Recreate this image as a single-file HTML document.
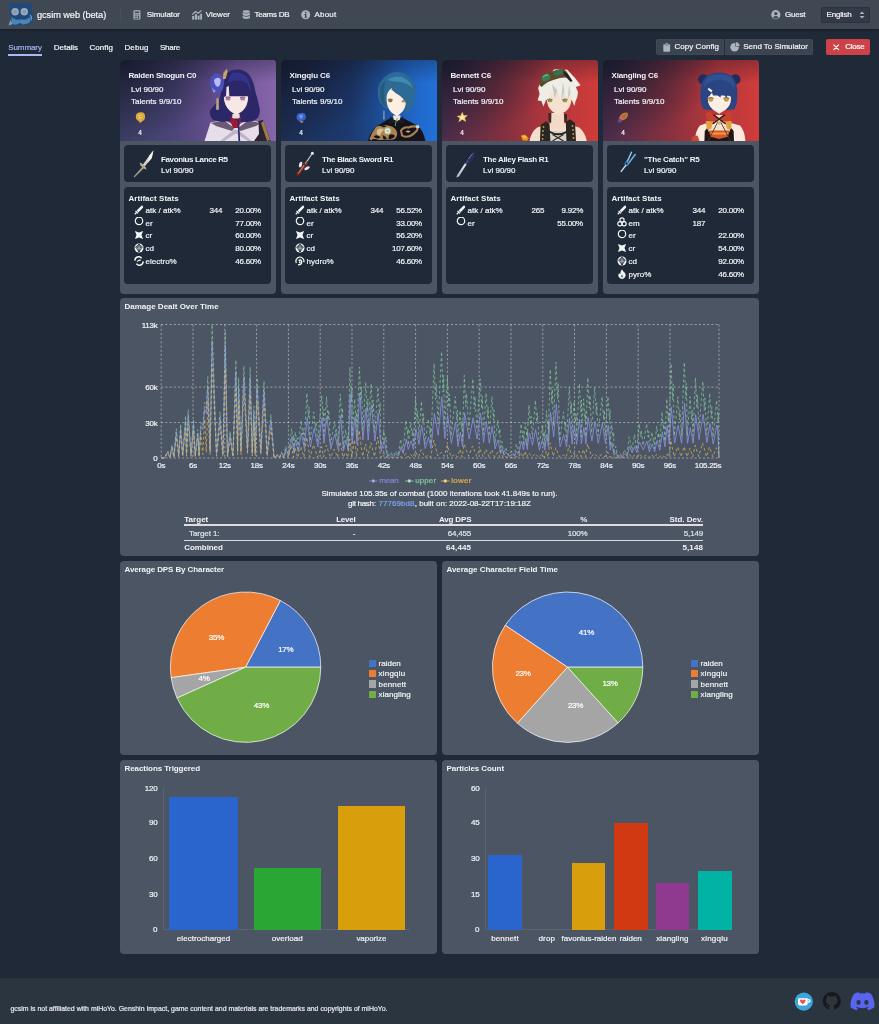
<!DOCTYPE html>
<html><head><meta charset="utf-8"><title>gcsim web (beta)</title>
<style>
html,body{margin:0;padding:0;}
body{width:879px;height:1024px;overflow:hidden;background:#1f2937;font-family:"Liberation Sans",sans-serif;position:relative;}
#r{position:absolute;left:0;top:0;width:879px;height:1024px;overflow:hidden;will-change:transform;}
#r div,#r span,#r svg{position:absolute;display:block;}
#r span{white-space:pre;-webkit-text-stroke:0.2px currentColor;}
</style></head><body><div id="r">
<div style="left:0px;top:0px;width:879px;height:29px;background:#404854;box-shadow:0 0 0 1px rgba(17,20,24,.2),0 1px 2px rgba(17,20,24,.4);"></div>
<svg style="left:7px;top:2px;" width="28" height="26" viewBox="0 0 28 26">
<path d="M1.6 1.4 L24.5 1.2 L25 10 Q27.5 13 26 18 Q24 23.5 18 23.5 L15 22 L12 23.8 L7 23.5 L1.5 23.5 L4 17 Q2 12 2.5 2.2Z" fill="#20497a"/>
<path d="M4.5 15 Q9 19.5 13.5 16.5 Q18 19.5 23 15 Q25 19 21 21.5 L16 22.5 L13 21 L9 22.8 L4.5 22 Z" fill="#4a85b6"/>
<path d="M1.5 23.5 L3.6 17.5 L5.2 22.2 Z" fill="#7f9db8"/>
<path d="M22.5 12 Q26.3 14 24.5 19 Q24 15 22.5 12Z" fill="#6fa6d4"/>
<circle cx="8.1" cy="9.7" r="3.7" fill="#98a9b8"/><circle cx="8.1" cy="9.7" r="1.9" fill="#8d95a8"/>
<circle cx="17.3" cy="9.7" r="3.7" fill="#98aeba"/><circle cx="17.3" cy="9.7" r="1.9" fill="#869aa6"/>
<path d="M10.5 14.5 L15 14.5 L13 18.5 Z" fill="#1c477a"/>
</svg>
<span style="left:37.00px;top:9.10px;font-size:9.2px;line-height:12px;color:#f1f4f8;letter-spacing:-0.047px;">gcsim web (beta)</span>
<div style="left:120px;top:7px;width:1px;height:15px;background:rgba(255,255,255,.045);"></div>
<svg style="left:133px;top:10px;" width="8" height="10" viewBox="0 0 8 10"><rect x="0.4" y="0.2" width="7" height="9.4" rx="0.8" fill="#abb3bf"/><rect x="1.6" y="1.5" width="4.6" height="1.7" fill="#404854"/><g fill="#404854"><rect x="1.6" y="4.4" width="1.2" height="1"/><rect x="3.3" y="4.4" width="1.2" height="1"/><rect x="5" y="4.4" width="1.2" height="1"/><rect x="1.6" y="6.2" width="1.2" height="1"/><rect x="3.3" y="6.2" width="1.2" height="1"/><rect x="5" y="6.2" width="1.2" height="2.4"/><rect x="1.6" y="7.9" width="2.9" height="1"/></g></svg>
<span style="left:146.70px;top:10.10px;font-size:8px;line-height:10px;color:#f1f4f8;letter-spacing:-0.055px;">Simulator</span>
<svg style="left:192px;top:10px;" width="10" height="10" viewBox="0 0 10 10"><g fill="#abb3bf"><rect x="0.2" y="6" width="2" height="3.6"/><rect x="2.9" y="4.2" width="2" height="5.4"/><rect x="5.6" y="5.6" width="2" height="4"/><rect x="8.2" y="3.8" width="1.8" height="5.8"/></g><path d="M0.6 4.2 L3.6 1.6 L6.2 3.2 L9.2 0.8" stroke="#abb3bf" stroke-width="1.2" fill="none" stroke-linecap="round"/></svg>
<span style="left:205.70px;top:10.10px;font-size:8px;line-height:10px;color:#f1f4f8;">Viewer</span>
<svg style="left:241.5px;top:10px;" width="9" height="10" viewBox="0 0 9 10"><g fill="#abb3bf"><ellipse cx="4.3" cy="1.6" rx="3.6" ry="1.4"/><path d="M0.7 2.6 Q4.3 4.6 7.9 2.6 V4.9 Q4.3 6.9 0.7 4.9Z"/><path d="M0.7 5.7 Q4.3 7.7 7.9 5.7 V8 Q4.3 10.2 0.7 8Z"/></g></svg>
<span style="left:254.50px;top:10.10px;font-size:8px;line-height:10px;color:#f1f4f8;letter-spacing:-0.262px;">Teams DB</span>
<svg style="left:301px;top:10px;" width="10" height="10" viewBox="0 0 10 10"><circle cx="4.7" cy="4.8" r="4.5" fill="#abb3bf"/><rect x="4" y="1.9" width="1.4" height="1.4" fill="#404854"/><path d="M3.4 4.1 H5.4 V7 H6.1 V7.8 H3.4 V7 H4 V4.9 H3.4Z" fill="#404854"/></svg>
<span style="left:314.50px;top:10.10px;font-size:8px;line-height:10px;color:#f1f4f8;letter-spacing:0.179px;">About</span>
<svg style="left:771px;top:9.5px;" width="10" height="10" viewBox="0 0 10 10"><circle cx="4.8" cy="4.7" r="4.6" fill="#abb3bf"/><circle cx="4.8" cy="3.6" r="1.7" fill="#404854"/><path d="M1.9 8 Q2.2 5.9 4.8 5.9 Q7.4 5.9 7.7 8 Q4.8 9.6 1.9 8Z" fill="#404854"/></svg>
<span style="left:785.00px;top:10.10px;font-size:8px;line-height:10px;color:#f1f4f8;letter-spacing:-0.229px;">Guest</span>
<div style="left:820.5px;top:7px;width:49.5px;height:16px;background:#333946;border-radius:2px;box-shadow:inset 0 0 0 1px rgba(17,20,24,.18);"></div>
<span style="left:826.50px;top:10.10px;font-size:8px;line-height:10px;color:#f1f4f8;letter-spacing:-0.177px;">English</span>
<svg style="left:858.5px;top:11px;" width="6" height="8" viewBox="0 0 6 8"><path d="M0.5 3.1 L3 0.6 L5.5 3.1Z M0.5 4.9 L3 7.4 L5.5 4.9Z" fill="#abb3bf"/></svg>
<span style="left:8.30px;top:43.20px;font-size:8px;line-height:10px;color:#a3b3ea;letter-spacing:-0.104px;">Summary</span>
<div style="left:8px;top:54px;width:34px;height:2px;background:#a9b8f2;"></div>
<span style="left:53.80px;top:43.20px;font-size:8px;line-height:10px;color:#f1f4f8;letter-spacing:-0.036px;">Details</span>
<span style="left:89.50px;top:43.20px;font-size:8px;line-height:10px;color:#f1f4f8;letter-spacing:0.062px;">Config</span>
<span style="left:124.50px;top:43.20px;font-size:8px;line-height:10px;color:#f1f4f8;letter-spacing:0.085px;">Debug</span>
<span style="left:160.00px;top:43.20px;font-size:8px;line-height:10px;color:#f1f4f8;letter-spacing:-0.270px;">Share</span>
<div style="left:656px;top:39px;width:68px;height:16px;background:#3c4452;border-radius:2px 0 0 2px;box-shadow:inset 0 0 0 1px rgba(255,255,255,.025);"></div>
<div style="left:725px;top:39px;width:88px;height:16px;background:#3c4452;border-radius:0 2px 2px 0;box-shadow:inset 0 0 0 1px rgba(255,255,255,.025);"></div>
<svg style="left:662.5px;top:42.5px;" width="8" height="9" viewBox="0 0 8 9"><rect x="0.3" y="1.2" width="6.8" height="7.6" rx="0.7" fill="#abb3bf"/><rect x="2.2" y="0.1" width="3" height="2" rx="0.5" fill="#abb3bf" stroke="#3c4452" stroke-width="0.5"/></svg>
<span style="left:674.50px;top:42.30px;font-size:8px;line-height:10px;color:#f1f4f8;letter-spacing:0.043px;">Copy Config</span>
<svg style="left:729.5px;top:42.3px;" width="10" height="10" viewBox="0 0 10 10"><circle cx="4.6" cy="5.2" r="4.3" fill="#abb3bf"/><path d="M5.3 4.5 V-0.5 H10.5 V4.5Z" fill="#3c4452"/><path d="M5.9 3.9 V0.2 A3.9 3.9 0 0 1 9.6 3.9Z" fill="#abb3bf"/></svg>
<span style="left:743.30px;top:42.30px;font-size:8px;line-height:10px;color:#f1f4f8;letter-spacing:-0.043px;">Send To Simulator</span>
<div style="left:826px;top:39px;width:43.5px;height:16px;background:#cd4246;border-radius:2px;"></div>
<svg style="left:833px;top:44px;" width="7" height="7" viewBox="0 0 7 7"><path d="M0.8 0.8 L5.6 5.6 M5.6 0.8 L0.8 5.6" stroke="#ffffff" stroke-width="1.15" stroke-linecap="round"/></svg>
<span style="left:845.30px;top:42.30px;font-size:8px;line-height:10px;color:#ffffff;letter-spacing:-0.291px;">Close</span>
<div style="left:119.6px;top:60.2px;width:156px;height:233.8px;background:#4b5563;border-radius:4px;"></div>
<div style="left:119.6px;top:60.2px;width:156px;height:80.6px;border-radius:4px 4px 0 0;overflow:hidden;background:linear-gradient(90deg,#3a3d62 0%,#4c4579 35%,#6b5093 66%,#8666aa 100%);"><div style="left:0;top:0;width:156px;height:81px;background:radial-gradient(ellipse 75% 100% at 0% 0%,rgba(20,24,42,.88) 0%,rgba(20,24,42,.5) 42%,rgba(20,24,42,0) 100%),linear-gradient(180deg,rgba(20,20,36,.32) 0%,rgba(20,20,36,0) 28%);"></div><svg style="left:0;top:0" width="156" height="81" viewBox="0 0 156 81">
<path d="M84.5 81 L90.5 62.5 L104 60 L116 66 L128 60 L142 62.5 L148.7 81Z" fill="#e7deec"/>
<path d="M91 63 L104 60.5 L114.5 68 L112 71 L96 66Z" fill="#6a5a74"/>
<path d="M141 63 L128 60.5 L118 68 L120.5 71 L136 66Z" fill="#6a5a74"/>
<path d="M100 81 L114 70 L118 70 L132 81 L128 81 L116 73.5 L104 81Z" fill="#bfb2c8"/>
<path d="M138.5 61 L143 60 L150.6 81 L134 81 L139 74Z" fill="#2b2232"/>
<path d="M141 63 L143.5 61 L150 80 L147 81Z" fill="#9a7d44"/>
<path d="M107.5 12.4 Q112 9 118 9.6 Q125 9.6 129.5 15.3 Q134 22 135.3 31.5 Q138 40 139.1 45.9 Q141 53 138.1 57.4 Q133 62.5 125.7 62 L107.5 61.2 Q98 63 92.3 59.3 Q88.5 54 90.3 49.7 Q95 45 99.9 38 Q101 30 103.7 24 Q104.5 16 107.5 12.4Z" fill="#2b2768"/>
<path d="M112 13 Q120 11 126 16 Q131 22 131 31 Q127 24 121 22 Q114 20 108 24 Q109 17 112 13Z" fill="#34338a"/>
<path d="M103.7 36 Q104 33 107 33 L126 33 Q128.3 33 128.2 37 Q128 46 122.5 51 L116.2 55.2 L110 51 Q104 45.5 103.7 36Z" fill="#f7e7e5"/>
<path d="M103 38 Q103 24 112 21 Q122 19 127.5 24 Q130.5 29 129.2 38.2 L127.8 36.2 L105.2 36.2 Z" fill="#2b2768"/>
<path d="M106.5 27 L108.8 26 L109.3 36.2 L106 36.2Z" fill="#f2e4e6"/>
<path d="M112.5 54 L119.5 54 L120 58.5 L112 58.5Z" fill="#f0dcd8"/>
<path d="M110.4 56.6 L116 60.5 L120.9 56.6 L120.2 63 L118.2 67.9 L113 67.9 L111 63Z" fill="#9d1a32"/>
<path d="M117.6 59 L119 59 L120.2 81 L118.4 81Z" fill="#2b2768"/>
<ellipse cx="108" cy="38.9" rx="2.5" ry="1.5" fill="#b07aa8"/><ellipse cx="122.6" cy="38.9" rx="2.5" ry="1.5" fill="#b07aa8"/>
<path d="M105.4 37.6 Q108 36.4 110.6 37.6" stroke="#3a2a50" stroke-width="0.7" fill="none"/><path d="M120 37.6 Q122.6 36.4 125.2 37.6" stroke="#3a2a50" stroke-width="0.7" fill="none"/>
<path d="M90.3 24 Q89 16 95 13.4 Q100 13 103 18 Q105 25 102 31 Q97 35 93 32 Q90.5 29 90.3 24Z" fill="#4d50b8"/>
<path d="M94 20 Q97 16 100.5 19 Q101.5 24 98 27 Q94.5 26 94 20Z" fill="#b9bcf6"/>
<path d="M92 28 L96 31 L93.5 33Z" fill="#8f93e6"/>
<path d="M102.8 19.1 L103.4 13 L106.8 8.6 L107.5 12 L105.6 19Z" fill="#c6a56a"/>
<path d="M96.4 38.2 L98.8 38.2 L99 49.7 L96 49.7Z" fill="#b59f80"/>
</svg></div>
<span style="left:128.50px;top:71.40px;font-size:8px;line-height:10px;color:#f1f4f8;font-weight:700;-webkit-text-stroke:0;letter-spacing:-0.213px;">Raiden Shogun C0</span>
<span style="left:131.00px;top:85.40px;font-size:8px;line-height:10px;color:#f1f4f8;">Lvl 90/90</span>
<span style="left:131.00px;top:97.00px;font-size:8px;line-height:10px;color:#f1f4f8;letter-spacing:0.042px;">Talents 9/9/10</span>
<svg style="left:133.5px;top:110.5px;" width="13" height="13" viewBox="0 0 13 13"><path d="M2 4 Q3 1 7 1.2 Q11 1 11 5 Q11.5 9 8 10.5 L6 12 L4.6 10 Q1 8.6 2 4Z" fill="#d9ac3c"/><path d="M4.4 4.6 Q6 2.8 8.4 4.2 Q8.8 6.4 6.6 7.6 Q4.2 7.2 4.4 4.6Z" fill="#f3d77a"/><path d="M5.4 5 L7.8 5.4" stroke="#8c6a20" stroke-width="0.8"/></svg>
<span style="left:138.20px;top:128.30px;font-size:6.5px;line-height:9px;color:#f1f4f8;">4</span>
<div style="left:124.1px;top:145.3px;width:146.6px;height:36.6px;background:#1f2937;border-radius:4px;"></div>
<svg style="left:133px;top:150px;" width="22" height="28" viewBox="0 0 22 28"><path d="M20.4 0.6 L18.8 8 L11.6 16.4 L9.8 14.8 L16.4 5.6Z" fill="#d5d2c8"/><path d="M20.4 0.6 L18.8 8 L14.6 12.8 L16.4 5.6Z" fill="#f4f2ea"/><path d="M6.6 12.4 L9 13.6 L12.6 17.2 L13.6 19.8 L10.8 18.6 L7.4 15.2Z" fill="#b9b094"/><path d="M9.6 16.6 L11 18 L1.4 27.6 L0.6 26.8Z" fill="#a8a08a"/></svg>
<span style="left:161.00px;top:154.60px;font-size:8px;line-height:10px;color:#f1f4f8;font-weight:700;-webkit-text-stroke:0;letter-spacing:-0.365px;">Favonius Lance R5</span>
<span style="left:161.00px;top:166.20px;font-size:8px;line-height:10px;color:#f1f4f8;">Lvl 90/90</span>
<div style="left:124.1px;top:187.3px;width:146.6px;height:96.9px;background:#1f2937;border-radius:4px;"></div>
<span style="left:128.50px;top:193.60px;font-size:8px;line-height:10px;color:#f1f4f8;font-weight:700;-webkit-text-stroke:0;letter-spacing:0.036px;">Artifact Stats</span>
<svg style="left:133.7px;top:204.5px;" width="10" height="10" viewBox="0 0 10 10"><path d="M8.6 0.4 L9.2 2.6 L4.4 7.4 L2.6 5.6 L7.4 0.8 Z" fill="#f1f4f8"/><path d="M1.9 5.6 L4.4 8.1 L3.6 8.9 L2.8 8.1 L1.2 9.7 L0.3 8.8 L1.9 7.2 L1.1 6.4Z" fill="#f1f4f8"/></svg>
<span style="left:145.60px;top:205.70px;font-size:8px;line-height:10px;color:#f1f4f8;">atk / atk%</span>
<span style="left:209.40px;top:205.70px;font-size:8px;line-height:10px;color:#f1f4f8;letter-spacing:-0.116px;">344</span>
<span style="left:235.28px;top:205.70px;font-size:8px;line-height:10px;color:#f1f4f8;letter-spacing:-0.235px;">20.00%</span>
<svg style="left:133.7px;top:217.35px;" width="10" height="10" viewBox="0 0 10 10"><circle cx="5" cy="3.9" r="3.7" fill="none" stroke="#f1f4f8" stroke-width="1.2"/></svg>
<span style="left:145.60px;top:218.55px;font-size:8px;line-height:10px;color:#f1f4f8;">er</span>
<span style="left:235.28px;top:218.55px;font-size:8px;line-height:10px;color:#f1f4f8;letter-spacing:-0.235px;">77.00%</span>
<svg style="left:133.7px;top:230.2px;" width="10" height="10" viewBox="0 0 10 10"><path d="M0.9 0.9 L5 2.5 L9.1 0.9 L7.5 5 L9.1 9.1 L5 7.5 L0.9 9.1 L2.5 5Z" fill="#f1f4f8"/></svg>
<span style="left:145.60px;top:231.40px;font-size:8px;line-height:10px;color:#f1f4f8;">cr</span>
<span style="left:235.28px;top:231.40px;font-size:8px;line-height:10px;color:#f1f4f8;letter-spacing:-0.235px;">60.00%</span>
<svg style="left:133.7px;top:243.05px;" width="10" height="10" viewBox="0 0 10 10"><circle cx="5" cy="5" r="4.5" fill="#f1f4f8"/><path d="M5 1.2 L8.3 4 L5 9 L1.7 4Z M1.7 4 H8.3 M3.6 4 L5 9 L6.4 4 L5 1.2 L3.6 4" fill="none" stroke="#1f2937" stroke-width="0.75" stroke-linejoin="round"/></svg>
<span style="left:145.60px;top:244.25px;font-size:8px;line-height:10px;color:#f1f4f8;">cd</span>
<span style="left:235.28px;top:244.25px;font-size:8px;line-height:10px;color:#f1f4f8;letter-spacing:-0.235px;">80.00%</span>
<svg style="left:133.7px;top:255.89999999999998px;" width="10" height="10" viewBox="0 0 10 10"><path d="M1 4.6 A3.6 3.6 0 0 1 7.6 2.4" fill="none" stroke="#f1f4f8" stroke-width="1.5"/><path d="M9 5.4 A3.6 3.6 0 0 1 2.4 7.6" fill="none" stroke="#f1f4f8" stroke-width="1.5"/><path d="M3.2 5.6 Q5 3.4 6.8 4.4" fill="none" stroke="#f1f4f8" stroke-width="1.3"/></svg>
<span style="left:145.60px;top:257.10px;font-size:8px;line-height:10px;color:#f1f4f8;">electro%</span>
<span style="left:235.28px;top:257.10px;font-size:8px;line-height:10px;color:#f1f4f8;letter-spacing:-0.235px;">46.60%</span>
<div style="left:280.6px;top:60.2px;width:156px;height:233.8px;background:#4b5563;border-radius:4px;"></div>
<div style="left:280.6px;top:60.2px;width:156px;height:80.6px;border-radius:4px 4px 0 0;overflow:hidden;background:linear-gradient(90deg,#1c2d52 0%,#1c3a70 45%,#1d4c94 63%,#2067c8 86%,#2270d8 100%);"><div style="left:0;top:0;width:156px;height:81px;background:radial-gradient(ellipse 75% 100% at 0% 0%,rgba(20,24,42,.88) 0%,rgba(20,24,42,.5) 42%,rgba(20,24,42,0) 100%),linear-gradient(180deg,rgba(20,20,36,.32) 0%,rgba(20,20,36,0) 28%);"></div><svg style="left:0;top:0" width="156" height="81" viewBox="0 0 156 81">
<path d="M87 81 Q90 70 96 66 L109.5 58 L122 58 L137 66 Q142 70 144.5 81Z" fill="#15141c"/>
<path d="M109.5 56.4 L116 60.5 L121.9 56.4 L123.5 63 L108 63Z" fill="#1c1b26"/>
<path d="M112 55.5 L119.5 55.5 L119 59.5 L116 61 L112.6 59.5Z" fill="#f6e6d8"/>
<path d="M116.4 58 Q114.6 62 114.2 66" stroke="#5fae6a" stroke-width="0.9" fill="none"/>
<path d="M94.2 68 Q97 64.5 101 66.5 Q104 64.5 109 66 Q114 67 116 72 Q117 77 113 79.5 L98 80 Q92 78 90 80.5 L88.5 79 Q91 72 94.2 68Z" fill="#a98452"/>
<path d="M96 70 Q100 67.5 103 69.5 Q100 72 98.5 76 Q95 75 96 70Z" fill="#d9bd8e"/>
<path d="M108 75 Q112 73 114 76 Q112 79.5 107.5 79Z" fill="#15141c"/><path d="M92.5 76.5 Q96 73.5 99.5 77.5 Q96 80 92.5 76.5Z" fill="#15141c"/><path d="M100.5 66.8 Q103.6 65 105.4 66.6 Q102.5 67.6 100.5 66.8Z" fill="#15141c"/><path d="M101.5 75 Q104.5 76 106 79 L102.5 79.5Z" fill="#15141c"/>
<circle cx="106.6" cy="70.9" r="3.7" fill="#c9a874"/><circle cx="106.6" cy="70.9" r="2.6" fill="#d3efe2"/><circle cx="106.6" cy="70.9" r="1.2" fill="#8fcdb6"/>
<path d="M120 70.5 Q123 66.5 127.5 67.5 Q131 66 134.5 66.5 Q137.5 67.5 136 70.5 Q133 74 129 76 Q124 77.5 121 75.5Z" fill="none" stroke="#a98452" stroke-width="2"/>
<path d="M124.5 71.5 Q127 69.5 129.5 71.5 Q127.5 73.8 124.5 71.5Z" fill="#c9a874"/>
<path d="M134.5 65.5 L137.8 65 L138.5 68 L135.5 68.6Z" fill="#cfd4e0"/>
<path d="M102.2 50.5 L103.6 50.5 L103.8 59.5 L102 59.5Z" fill="#6d93b6"/>
<path d="M104.7 16.3 Q110 12 116.2 12 Q123 12 127.6 16.3 Q132 20 134.3 25.8 Q135.5 32 133.8 38.2 Q133 44 130.5 47.8 Q128.5 51.5 125.7 53.5 L122 47 L106.5 48.5 Q103.5 48.5 101.8 45.9 Q98 42.5 97.5 38.2 Q96 32 97.5 26.8 Q99.5 20.5 104.7 16.3Z" fill="#2d6b96"/>
<path d="M105.6 40.2 Q105 34 108.5 30 L111.5 27.5 L125 38 Q125.5 46 122 51 L116.2 56.6 L110.5 52.5 Q106 48 105.6 40.2Z" fill="#fbeee2"/>
<path d="M110.5 29.5 Q112 24 115 21 Q122 24 126.5 33 Q127.5 40 125.6 45 Q123 38.5 118.5 35.5 Q114 33 110.5 29.5Z" fill="#2d6b96"/>
<path d="M106 20 Q113 15 121 17 Q129 20 132 28 Q126 23 119 22 Q112 22 106 20Z" fill="#3f88b2"/>
<path d="M99 30 Q100 24 104 21 Q102.5 30 103.5 40 Q104 44.5 106 47.5 Q101.5 45.5 100 41 Q98.5 36 99 30Z" fill="#25597f"/>
<ellipse cx="109.3" cy="40.7" rx="2.1" ry="1.5" fill="#9a6a28"/>
<path d="M106.8 39.6 Q109.3 38.2 111.8 39.8" stroke="#3a2a20" stroke-width="0.7" fill="none"/>
<ellipse cx="122.4" cy="41.2" rx="1.6" ry="1.2" fill="#b98a3c"/>
</svg></div>
<span style="left:289.50px;top:71.40px;font-size:8px;line-height:10px;color:#f1f4f8;font-weight:700;-webkit-text-stroke:0;letter-spacing:-0.128px;">Xingqiu C6</span>
<span style="left:292.00px;top:85.40px;font-size:8px;line-height:10px;color:#f1f4f8;">Lvl 90/90</span>
<span style="left:292.00px;top:97.00px;font-size:8px;line-height:10px;color:#f1f4f8;letter-spacing:0.042px;">Talents 9/9/10</span>
<svg style="left:294.5px;top:110.5px;" width="13" height="13" viewBox="0 0 13 13"><path d="M1.5 5 Q3 1.2 6 2.2 Q9 0.6 10.6 4 Q12 7.6 8.6 9.4 L5 10.4 Q1 9.2 1.5 5Z" fill="#3c63c9"/><path d="M4 4.2 Q6 2.6 8 4.4 Q8.4 6.8 6 7.8 Q3.6 6.8 4 4.2Z" fill="#6f96ee"/><path d="M4.4 10 L8.8 10.4 L6.6 12Z" fill="#c9a24a"/></svg>
<span style="left:299.20px;top:128.30px;font-size:6.5px;line-height:9px;color:#f1f4f8;">4</span>
<div style="left:285.1px;top:145.3px;width:146.6px;height:36.6px;background:#1f2937;border-radius:4px;"></div>
<svg style="left:294px;top:150px;" width="22" height="28" viewBox="0 0 22 28"><path d="M11.8 11.6 L13.6 13.4 L4.6 25.6 L2.2 26.2 L2.6 23.6Z" fill="#8a2a22"/><path d="M11.8 11.6 L12.8 12.6 L4 24.6 L2.6 25.4Z" fill="#c4867c"/><path d="M2.6 23.6 L5.6 24.6 L2 26.6Z" fill="#6a140e"/><path d="M17.8 4.2 L12.6 11.8" stroke="#d9d6d8" stroke-width="1.1"/><circle cx="18.4" cy="3.2" r="1.5" fill="#ececf0"/><ellipse cx="6.6" cy="14.6" rx="1.6" ry="3" transform="rotate(18 6.6 14.6)" fill="#e6e6ec"/><ellipse cx="13" cy="18.2" rx="1.5" ry="3" transform="rotate(62 13 18.2)" fill="#e6e6ec"/><path d="M9.4 12.6 L13.6 15.6 L12.6 17 L8.4 14.2Z" fill="#5a2a2a"/></svg>
<span style="left:322.00px;top:154.60px;font-size:8px;line-height:10px;color:#f1f4f8;font-weight:700;-webkit-text-stroke:0;letter-spacing:-0.328px;">The Black Sword R1</span>
<span style="left:322.00px;top:166.20px;font-size:8px;line-height:10px;color:#f1f4f8;">Lvl 90/90</span>
<div style="left:285.1px;top:187.3px;width:146.6px;height:96.9px;background:#1f2937;border-radius:4px;"></div>
<span style="left:289.50px;top:193.60px;font-size:8px;line-height:10px;color:#f1f4f8;font-weight:700;-webkit-text-stroke:0;letter-spacing:0.036px;">Artifact Stats</span>
<svg style="left:294.7px;top:204.5px;" width="10" height="10" viewBox="0 0 10 10"><path d="M8.6 0.4 L9.2 2.6 L4.4 7.4 L2.6 5.6 L7.4 0.8 Z" fill="#f1f4f8"/><path d="M1.9 5.6 L4.4 8.1 L3.6 8.9 L2.8 8.1 L1.2 9.7 L0.3 8.8 L1.9 7.2 L1.1 6.4Z" fill="#f1f4f8"/></svg>
<span style="left:306.60px;top:205.70px;font-size:8px;line-height:10px;color:#f1f4f8;">atk / atk%</span>
<span style="left:370.40px;top:205.70px;font-size:8px;line-height:10px;color:#f1f4f8;letter-spacing:-0.116px;">344</span>
<span style="left:396.28px;top:205.70px;font-size:8px;line-height:10px;color:#f1f4f8;letter-spacing:-0.235px;">56.52%</span>
<svg style="left:294.7px;top:217.35px;" width="10" height="10" viewBox="0 0 10 10"><circle cx="5" cy="3.9" r="3.7" fill="none" stroke="#f1f4f8" stroke-width="1.2"/></svg>
<span style="left:306.60px;top:218.55px;font-size:8px;line-height:10px;color:#f1f4f8;">er</span>
<span style="left:396.28px;top:218.55px;font-size:8px;line-height:10px;color:#f1f4f8;letter-spacing:-0.235px;">33.00%</span>
<svg style="left:294.7px;top:230.2px;" width="10" height="10" viewBox="0 0 10 10"><path d="M0.9 0.9 L5 2.5 L9.1 0.9 L7.5 5 L9.1 9.1 L5 7.5 L0.9 9.1 L2.5 5Z" fill="#f1f4f8"/></svg>
<span style="left:306.60px;top:231.40px;font-size:8px;line-height:10px;color:#f1f4f8;">cr</span>
<span style="left:396.28px;top:231.40px;font-size:8px;line-height:10px;color:#f1f4f8;letter-spacing:-0.235px;">56.20%</span>
<svg style="left:294.7px;top:243.05px;" width="10" height="10" viewBox="0 0 10 10"><circle cx="5" cy="5" r="4.5" fill="#f1f4f8"/><path d="M5 1.2 L8.3 4 L5 9 L1.7 4Z M1.7 4 H8.3 M3.6 4 L5 9 L6.4 4 L5 1.2 L3.6 4" fill="none" stroke="#1f2937" stroke-width="0.75" stroke-linejoin="round"/></svg>
<span style="left:306.60px;top:244.25px;font-size:8px;line-height:10px;color:#f1f4f8;">cd</span>
<span style="left:392.06px;top:244.25px;font-size:8px;line-height:10px;color:#f1f4f8;letter-spacing:-0.235px;">107.60%</span>
<svg style="left:294.7px;top:255.89999999999998px;" width="10" height="10" viewBox="0 0 10 10"><path d="M1.4 7 A4 4 0 1 1 8.8 6.2" fill="none" stroke="#f1f4f8" stroke-width="1.3"/><path d="M3 8.8 Q7.6 8.6 6.6 5 Q5.6 3.2 3.6 4.6" fill="none" stroke="#f1f4f8" stroke-width="1.3"/><circle cx="4.8" cy="6.3" r="1" fill="#f1f4f8"/></svg>
<span style="left:306.60px;top:257.10px;font-size:8px;line-height:10px;color:#f1f4f8;">hydro%</span>
<span style="left:396.28px;top:257.10px;font-size:8px;line-height:10px;color:#f1f4f8;letter-spacing:-0.235px;">46.60%</span>
<div style="left:441.6px;top:60.2px;width:156px;height:233.8px;background:#4b5563;border-radius:4px;"></div>
<div style="left:441.6px;top:60.2px;width:156px;height:80.6px;border-radius:4px 4px 0 0;overflow:hidden;background:linear-gradient(90deg,#4a2d4c 0%,#80303f 38%,#b4363c 70%,#cf3c3a 100%);"><div style="left:0;top:0;width:156px;height:81px;background:radial-gradient(ellipse 75% 100% at 0% 0%,rgba(20,24,42,.88) 0%,rgba(20,24,42,.5) 42%,rgba(20,24,42,0) 100%),linear-gradient(180deg,rgba(20,20,36,.32) 0%,rgba(20,20,36,0) 28%);"></div><svg style="left:0;top:0" width="156" height="81" viewBox="0 0 156 81">
<path d="M87.5 81 Q89 72 95.1 67.5 L109 63 L123 63 L137.2 67.5 Q143 72 144.8 81Z" fill="#f4ddcd"/>
<path d="M106.2 53 L109.4 53 L109.8 62 L106.6 62Z" fill="#3a2c22"/><path d="M121.9 54 L125 54 L124.8 62 L122 62Z" fill="#3a2c22"/>
<path d="M109.5 53 L121.9 53 L122.4 68 L109 68Z" fill="#f3d9c7"/>
<path d="M105.6 71 L125.7 71 L126 81 L105.2 81Z" fill="#d6d2ca"/>
<path d="M98.6 65 L104 61.2 L107.5 64 L108.4 81 L98 81Z" fill="#2a2520"/>
<path d="M123.8 62 L128 59.3 L133 63 L134 81 L124.4 81Z" fill="#2a2520"/>
<g fill="#c2a050"><circle cx="101.5" cy="67" r="0.9"/><circle cx="101" cy="71" r="0.9"/><circle cx="100.8" cy="75" r="0.9"/><circle cx="100.6" cy="79" r="0.9"/><circle cx="130.5" cy="66" r="0.9"/><circle cx="131" cy="70" r="0.9"/><circle cx="131.3" cy="74" r="0.9"/><circle cx="131.5" cy="78" r="0.9"/></g>
<path d="M107 70.5 Q116 76 125.5 70.5 L125.5 72.5 Q116 78 107 72.5Z" fill="#2a2520"/>
<path d="M110.5 74.5 L121.5 81 M121.5 74.5 L110.5 81" stroke="#2a2520" stroke-width="1.1"/>
<path d="M78.9 75.4 L83 74.6 L86.8 78.2 L85 80.8 L80.5 80.3Z" fill="#e8961c"/><path d="M80 76 L83 75.4 L85 77.4 L82 78.2Z" fill="#f6c042"/>
<path d="M99.9 16.3 L104 13 L108 14 L112 9.6 L116.2 9.1 L121 10 L125 9.4 L129.5 14.3 L133 18 L138.6 25.3 L133.8 27 L136 32 L135.3 37.3 L133.6 41 L132.4 46 L129.8 40 L104 40 L101.4 46.6 L99.4 41 L95.6 40.6 L97.6 34 L96.2 28 L98.6 22Z" fill="#eeeee7"/>
<path d="M104.7 38 Q104.7 31.5 117 31.5 Q129.5 31.5 129.5 38 Q129.5 47 123.5 51.5 L116.2 55.6 L110.5 51.5 Q104.7 47 104.7 38Z" fill="#f6e0d0"/>
<path d="M101 30 L105 22 L112 19 L122 18 L130 22 L134 31 L131.6 42 L128.6 33 L125.6 39.4 L122.4 31 L119 41.6 L115.4 30.6 L112.6 38.4 L109.4 31 L106.4 41 L103.8 35 L102 42.5Z" fill="#eeeee7"/>
<path d="M110 24 L115.4 30.6 L112.6 38.4Z M121 22 L122.4 31 L119 41.6Z M127 25 L128.6 33 L125.6 39.4Z" fill="#c8c8c2"/>
<path d="M97.5 24.9 Q97 18 101.5 14 Q106 10.5 111 11.2 Q116 8.4 121 9.6 Q124.6 10.4 126 14.4 L125.7 17.6 Q119 17 113 19.6 Q105 21.6 99.6 27Z" fill="#5f4a2c"/>
<path d="M120 10.6 L126 14 L130.6 21 L128.6 22 L123 16Z" fill="#26241f"/>
<ellipse cx="103.9" cy="17.6" rx="4.6" ry="3.3" transform="rotate(-28 103.9 17.6)" fill="#3c7c58"/>
<ellipse cx="116.4" cy="12.6" rx="4.8" ry="2.7" transform="rotate(-16 116.4 12.6)" fill="#357250"/>
<path d="M101 17 Q103.4 14.6 106 15" stroke="#9fd8b4" stroke-width="0.9" fill="none"/>
<ellipse cx="107.9" cy="40.8" rx="2.4" ry="1.5" fill="#8b9a3e"/><ellipse cx="122.9" cy="40.8" rx="2.4" ry="1.5" fill="#8b9a3e"/>
<path d="M105.2 39.6 Q107.9 38.2 110.6 39.8" stroke="#4a3a2a" stroke-width="0.7" fill="none"/><path d="M120.2 39.8 Q122.9 38.2 125.6 39.6" stroke="#4a3a2a" stroke-width="0.7" fill="none"/>
</svg></div>
<span style="left:450.50px;top:71.40px;font-size:8px;line-height:10px;color:#f1f4f8;font-weight:700;-webkit-text-stroke:0;letter-spacing:-0.173px;">Bennett C6</span>
<span style="left:453.00px;top:85.40px;font-size:8px;line-height:10px;color:#f1f4f8;">Lvl 90/90</span>
<span style="left:453.00px;top:97.00px;font-size:8px;line-height:10px;color:#f1f4f8;letter-spacing:0.042px;">Talents 9/9/10</span>
<svg style="left:455.5px;top:110.5px;" width="13" height="13" viewBox="0 0 13 13"><path d="M6.2 0.8 L7.9 4.2 L11.8 4.2 L9 7 L10.2 11 L6.4 8.8 L2.4 11.2 L3.6 7.2 L0.6 5 L4.6 4.4Z" fill="#edc866"/><path d="M6.2 3.4 L7.2 5.4 L9 5.6 L7.6 7 L8 8.8 L6.3 7.8 L4.6 8.8 L5 7 L3.6 5.8 L5.4 5.4Z" fill="#fbeeb4"/></svg>
<span style="left:460.20px;top:128.30px;font-size:6.5px;line-height:9px;color:#f1f4f8;">4</span>
<div style="left:446.1px;top:145.3px;width:146.6px;height:36.6px;background:#1f2937;border-radius:4px;"></div>
<svg style="left:455px;top:150px;" width="22" height="28" viewBox="0 0 22 28"><path d="M1.2 27.4 L2.2 25 L10 13 L11.8 14.2 L4 26.4Z" fill="#b9bdd6"/><path d="M3.4 24.2 L9.6 14.6 L10.6 15.2 Z" fill="#eceef8"/><path d="M10 13 L18.4 2.4 L19.8 3.2 L11.8 14.2Z" fill="#45468a"/><path d="M12.6 10.6 Q15 4.6 19 2.6 Q20.4 6.4 17.6 10.4 Q15 13.6 12.6 10.6Z" fill="#2e2c5c" opacity="0.85"/><path d="M13.4 9 L17.6 3.6" stroke="#7f83c8" stroke-width="0.9"/></svg>
<span style="left:483.00px;top:154.60px;font-size:8px;line-height:10px;color:#f1f4f8;font-weight:700;-webkit-text-stroke:0;letter-spacing:-0.296px;">The Alley Flash R1</span>
<span style="left:483.00px;top:166.20px;font-size:8px;line-height:10px;color:#f1f4f8;">Lvl 90/90</span>
<div style="left:446.1px;top:187.3px;width:146.6px;height:96.9px;background:#1f2937;border-radius:4px;"></div>
<span style="left:450.50px;top:193.60px;font-size:8px;line-height:10px;color:#f1f4f8;font-weight:700;-webkit-text-stroke:0;letter-spacing:0.036px;">Artifact Stats</span>
<svg style="left:455.7px;top:204.5px;" width="10" height="10" viewBox="0 0 10 10"><path d="M8.6 0.4 L9.2 2.6 L4.4 7.4 L2.6 5.6 L7.4 0.8 Z" fill="#f1f4f8"/><path d="M1.9 5.6 L4.4 8.1 L3.6 8.9 L2.8 8.1 L1.2 9.7 L0.3 8.8 L1.9 7.2 L1.1 6.4Z" fill="#f1f4f8"/></svg>
<span style="left:467.60px;top:205.70px;font-size:8px;line-height:10px;color:#f1f4f8;">atk / atk%</span>
<span style="left:531.40px;top:205.70px;font-size:8px;line-height:10px;color:#f1f4f8;letter-spacing:-0.116px;">265</span>
<span style="left:561.50px;top:205.70px;font-size:8px;line-height:10px;color:#f1f4f8;letter-spacing:-0.236px;">9.92%</span>
<svg style="left:455.7px;top:217.35px;" width="10" height="10" viewBox="0 0 10 10"><circle cx="5" cy="3.9" r="3.7" fill="none" stroke="#f1f4f8" stroke-width="1.2"/></svg>
<span style="left:467.60px;top:218.55px;font-size:8px;line-height:10px;color:#f1f4f8;">er</span>
<span style="left:557.28px;top:218.55px;font-size:8px;line-height:10px;color:#f1f4f8;letter-spacing:-0.235px;">55.00%</span>
<div style="left:602.6px;top:60.2px;width:156px;height:233.8px;background:#4b5563;border-radius:4px;"></div>
<div style="left:602.6px;top:60.2px;width:156px;height:80.6px;border-radius:4px 4px 0 0;overflow:hidden;background:linear-gradient(90deg,#4a2d4c 0%,#80303f 38%,#b4363c 70%,#cf3c3a 100%);"><div style="left:0;top:0;width:156px;height:81px;background:radial-gradient(ellipse 75% 100% at 0% 0%,rgba(20,24,42,.88) 0%,rgba(20,24,42,.5) 42%,rgba(20,24,42,0) 100%),linear-gradient(180deg,rgba(20,20,36,.32) 0%,rgba(20,20,36,0) 28%);"></div><svg style="left:0;top:0" width="156" height="81" viewBox="0 0 156 81">
<path d="M92 81 Q92.5 70 97 65.5 L104 63 L128 63 L137 65.5 Q141.5 70 142.4 81Z" fill="#fbeadd"/>
<path d="M88.4 81 L89.6 76.6 L94.6 75.5 L96.4 81Z" fill="#c8463a"/>
<path d="M101.8 71 L105.6 66 L126.6 66 L130.6 71 L131 81 L101.4 81Z" fill="#1f1416"/>
<path d="M105.6 66 L126.6 66 L127 71.4 L105.2 71.4Z" fill="#f6e2cc"/>
<path d="M106 70.6 L126.6 70.6 L125 76.8 L116.2 79 L107.4 76.8Z" fill="#d8552e"/>
<path d="M107.4 72.6 L125.4 72.6 L124.8 74.6 L108 74.6Z" fill="#eaa23e"/>
<path d="M102.8 61 L110.4 61 L108.2 69 L103.8 69.6Z" fill="#e0a23c"/><path d="M121.9 61 L128.6 61 L128.2 69.6 L124 69Z" fill="#e0a23c"/>
<path d="M110.4 55 L122 55 L121.6 62 L116.2 64.4 L110.8 62Z" fill="#f7e2d2"/>
<path d="M102.3 53.6 Q104.5 51 108 52.4 L116 58 L113.4 61.4 L106 61.2 Q102.6 58 102.3 53.6Z" fill="#c9402e"/>
<path d="M129.5 53.6 Q127.5 51 124 52.4 L116.4 58 L119 61.4 L126 61.2 Q129.2 58 129.5 53.6Z" fill="#c9402e"/>
<path d="M110.4 54.6 L122.6 64 M121.9 54.6 L109.6 64" stroke="#3a1c1c" stroke-width="1.5"/>
<path d="M115 61.6 L105 81 M117.4 61.6 L127.6 81" stroke="#4a3426" stroke-width="0.9"/>
<circle cx="116.2" cy="63.2" r="1.7" fill="#d9b878"/>
<circle cx="100.2" cy="19.4" r="5.1" fill="#222d5c"/><circle cx="132.4" cy="19.4" r="5.1" fill="#222d5c"/>
<path d="M97.5 32 Q97.5 12.6 116.2 12.4 Q134.3 12.6 134.3 32 Q135 42 131.6 49.2 L125 50 L107 50 L100.4 49.2 Q96.6 42 97.5 32Z" fill="#2a4581"/>
<path d="M104.7 38 Q104.7 32 116.2 32 Q128.1 32 128.1 38 Q128 45.5 122.6 49.8 L116.2 53.8 L110 49.8 Q104.8 45.5 104.7 38Z" fill="#fdeee4"/>
<path d="M102.8 40 Q102 24 116.2 23 Q130 24 129.6 40 L128 36.4 L124.6 35.4 L123.4 37.4 L121.4 35.4 L118 35.4 L117.4 37.6 L114.6 35.4 L110 35.4 L108.8 32 L106.6 36 L104.6 37Z" fill="#2a4581"/>
<path d="M106 16 Q116 12.6 127 16.6 Q131.6 21 131.6 28 Q126 20 116 19.6 Q106 20 101 28 Q101 20 106 16Z" fill="#315292"/>
<path d="M105.6 27.7 L109.5 30.6 L108.3 32.5 L104.8 29.6Z" fill="#f2f2f6"/>
<ellipse cx="107.7" cy="39.8" rx="2.5" ry="1.9" fill="#c49a3c"/><ellipse cx="123.4" cy="39.8" rx="2.5" ry="1.9" fill="#c49a3c"/>
<path d="M104.8 38.4 Q107.7 36.6 110.6 38.4" stroke="#3a2a2a" stroke-width="0.8" fill="none"/><path d="M120.4 38.4 Q123.4 36.6 126.4 38.4" stroke="#3a2a2a" stroke-width="0.8" fill="none"/>
</svg></div>
<span style="left:611.50px;top:71.40px;font-size:8px;line-height:10px;color:#f1f4f8;font-weight:700;-webkit-text-stroke:0;letter-spacing:-0.163px;">Xiangling C6</span>
<span style="left:614.00px;top:85.40px;font-size:8px;line-height:10px;color:#f1f4f8;">Lvl 90/90</span>
<span style="left:614.00px;top:97.00px;font-size:8px;line-height:10px;color:#f1f4f8;letter-spacing:0.042px;">Talents 9/9/10</span>
<svg style="left:616.5px;top:110.5px;" width="13" height="13" viewBox="0 0 13 13"><path d="M3.2 4.4 Q6.4 0.4 10.6 1.8 Q12 5.2 8.6 8 Q5 10.6 2.4 8.4 Q1.6 6.2 3.2 4.4Z" fill="#a9863c"/><path d="M5 4.6 Q7.4 2.4 9.6 3.2 Q9.8 5.4 7.6 7 Q5.4 8.2 4.4 6.8Z" fill="#d2583a"/><path d="M1 8.4 Q3.6 7.4 5.4 9.4 Q4.2 12 1.6 11.6 Q0.2 10.2 1 8.4Z" fill="#7a3ab0"/></svg>
<span style="left:621.20px;top:128.30px;font-size:6.5px;line-height:9px;color:#f1f4f8;">4</span>
<div style="left:607.1px;top:145.3px;width:146.6px;height:36.6px;background:#1f2937;border-radius:4px;"></div>
<svg style="left:616px;top:150px;" width="22" height="28" viewBox="0 0 22 28"><path d="M15.5 2.2 L10.3 13.6" stroke="#8cc4ea" stroke-width="1.5" stroke-linecap="round"/><path d="M19.2 4.5 L11.6 14.6" stroke="#7ab6e2" stroke-width="1.5" stroke-linecap="round"/><path d="M8.4 13.6 Q9.4 11 11 10.6 L13 13.4 Q12.2 16 9.8 16.4Z" fill="#3a8cd0"/><circle cx="10.5" cy="13.5" r="0.9" fill="#0e1c3a"/><path d="M9.6 15.6 L5.2 21.4" stroke="#c9d9ea" stroke-width="1.5" stroke-linecap="round"/></svg>
<span style="left:644.00px;top:154.60px;font-size:8px;line-height:10px;color:#f1f4f8;font-weight:700;-webkit-text-stroke:0;letter-spacing:-0.229px;">&quot;The Catch&quot; R5</span>
<span style="left:644.00px;top:166.20px;font-size:8px;line-height:10px;color:#f1f4f8;">Lvl 90/90</span>
<div style="left:607.1px;top:187.3px;width:146.6px;height:96.9px;background:#1f2937;border-radius:4px;"></div>
<span style="left:611.50px;top:193.60px;font-size:8px;line-height:10px;color:#f1f4f8;font-weight:700;-webkit-text-stroke:0;letter-spacing:0.036px;">Artifact Stats</span>
<svg style="left:616.7px;top:204.5px;" width="10" height="10" viewBox="0 0 10 10"><path d="M8.6 0.4 L9.2 2.6 L4.4 7.4 L2.6 5.6 L7.4 0.8 Z" fill="#f1f4f8"/><path d="M1.9 5.6 L4.4 8.1 L3.6 8.9 L2.8 8.1 L1.2 9.7 L0.3 8.8 L1.9 7.2 L1.1 6.4Z" fill="#f1f4f8"/></svg>
<span style="left:628.60px;top:205.70px;font-size:8px;line-height:10px;color:#f1f4f8;">atk / atk%</span>
<span style="left:692.40px;top:205.70px;font-size:8px;line-height:10px;color:#f1f4f8;letter-spacing:-0.116px;">344</span>
<span style="left:718.28px;top:205.70px;font-size:8px;line-height:10px;color:#f1f4f8;letter-spacing:-0.235px;">20.00%</span>
<svg style="left:616.7px;top:217.35px;" width="10" height="10" viewBox="0 0 10 10"><g fill="none" stroke="#f1f4f8" stroke-width="1.15"><circle cx="5" cy="3" r="2.1"/><circle cx="2.9" cy="6.7" r="2.1"/><circle cx="7.1" cy="6.7" r="2.1"/></g></svg>
<span style="left:628.60px;top:218.55px;font-size:8px;line-height:10px;color:#f1f4f8;">em</span>
<span style="left:692.40px;top:218.55px;font-size:8px;line-height:10px;color:#f1f4f8;letter-spacing:-0.116px;">187</span>
<svg style="left:616.7px;top:230.2px;" width="10" height="10" viewBox="0 0 10 10"><circle cx="5" cy="3.9" r="3.7" fill="none" stroke="#f1f4f8" stroke-width="1.2"/></svg>
<span style="left:628.60px;top:231.40px;font-size:8px;line-height:10px;color:#f1f4f8;">er</span>
<span style="left:718.28px;top:231.40px;font-size:8px;line-height:10px;color:#f1f4f8;letter-spacing:-0.235px;">22.00%</span>
<svg style="left:616.7px;top:243.05px;" width="10" height="10" viewBox="0 0 10 10"><path d="M0.9 0.9 L5 2.5 L9.1 0.9 L7.5 5 L9.1 9.1 L5 7.5 L0.9 9.1 L2.5 5Z" fill="#f1f4f8"/></svg>
<span style="left:628.60px;top:244.25px;font-size:8px;line-height:10px;color:#f1f4f8;">cr</span>
<span style="left:718.28px;top:244.25px;font-size:8px;line-height:10px;color:#f1f4f8;letter-spacing:-0.235px;">54.00%</span>
<svg style="left:616.7px;top:255.89999999999998px;" width="10" height="10" viewBox="0 0 10 10"><circle cx="5" cy="5" r="4.5" fill="#f1f4f8"/><path d="M5 1.2 L8.3 4 L5 9 L1.7 4Z M1.7 4 H8.3 M3.6 4 L5 9 L6.4 4 L5 1.2 L3.6 4" fill="none" stroke="#1f2937" stroke-width="0.75" stroke-linejoin="round"/></svg>
<span style="left:628.60px;top:257.10px;font-size:8px;line-height:10px;color:#f1f4f8;">cd</span>
<span style="left:718.28px;top:257.10px;font-size:8px;line-height:10px;color:#f1f4f8;letter-spacing:-0.235px;">92.00%</span>
<svg style="left:616.7px;top:268.75px;" width="10" height="10" viewBox="0 0 10 10"><path d="M5 0.2 Q6 2.4 7.8 3.8 Q9.6 5.8 8 8.2 Q6.6 9.9 5 9.9 Q3.4 9.9 2 8.2 Q0.4 5.8 2.4 3.9 Q2.6 5.2 3.4 5.2 Q3.2 2.4 5 0.2Z" fill="#f1f4f8"/><path d="M5 5.4 Q6.6 7 5 8.8 Q3.4 7 5 5.4Z" fill="#1f2937"/></svg>
<span style="left:628.60px;top:269.95px;font-size:8px;line-height:10px;color:#f1f4f8;">pyro%</span>
<span style="left:718.28px;top:269.95px;font-size:8px;line-height:10px;color:#f1f4f8;letter-spacing:-0.235px;">46.60%</span>
<div style="left:119.6px;top:298.2px;width:639px;height:257.8px;background:#4b5563;border-radius:4px;"></div>
<span style="left:124.50px;top:301.80px;font-size:8px;line-height:10px;color:#f1f4f8;font-weight:700;-webkit-text-stroke:0;">Damage Dealt Over Time</span>
<svg style="left:0px;top:0px;pointer-events:none;" width="879" height="560" viewBox="0 0 879 560"><g stroke="rgba(255,255,255,.62)" stroke-width="0.7" stroke-dasharray="2.1 2.1" fill="none"><line x1="161.20" y1="324.5" x2="161.20" y2="458.0"/><line x1="193.00" y1="324.5" x2="193.00" y2="458.0"/><line x1="224.80" y1="324.5" x2="224.80" y2="458.0"/><line x1="256.60" y1="324.5" x2="256.60" y2="458.0"/><line x1="288.39" y1="324.5" x2="288.39" y2="458.0"/><line x1="320.19" y1="324.5" x2="320.19" y2="458.0"/><line x1="351.99" y1="324.5" x2="351.99" y2="458.0"/><line x1="383.79" y1="324.5" x2="383.79" y2="458.0"/><line x1="415.59" y1="324.5" x2="415.59" y2="458.0"/><line x1="447.39" y1="324.5" x2="447.39" y2="458.0"/><line x1="479.19" y1="324.5" x2="479.19" y2="458.0"/><line x1="510.98" y1="324.5" x2="510.98" y2="458.0"/><line x1="542.78" y1="324.5" x2="542.78" y2="458.0"/><line x1="574.58" y1="324.5" x2="574.58" y2="458.0"/><line x1="606.38" y1="324.5" x2="606.38" y2="458.0"/><line x1="638.18" y1="324.5" x2="638.18" y2="458.0"/><line x1="669.98" y1="324.5" x2="669.98" y2="458.0"/><line x1="719.0" y1="324.5" x2="719.0" y2="458.0"/><line x1="161.2" y1="458.00" x2="719.0" y2="458.00"/><line x1="161.2" y1="422.56" x2="719.0" y2="422.56"/><line x1="161.2" y1="387.12" x2="719.0" y2="387.12"/><line x1="161.2" y1="324.50" x2="719.0" y2="324.50"/></g><polyline points="161.2,458.0 164.5,458.0 167.8,451.8 169.9,457.4 172.1,446.6 173.9,457.0 176.3,432.0 178.7,455.6 180.6,427.9 182.7,455.3 185.6,420.6 186.5,454.6 188.2,415.4 191.0,454.9 193.5,423.7 195.2,455.7 197.8,433.0 199.1,455.7 200.9,426.8 202.8,429.6 204.7,409.1 206.3,413.6 207.8,386.3 210.1,451.5 212.1,340.5 216.5,454.3 220.0,417.5 222.9,454.3 225.3,345.7 227.5,455.8 230.1,434.1 232.9,455.8 235.9,371.7 237.6,451.6 238.6,387.3 241.0,451.6 243.9,376.9 247.5,450.7 250.2,377.9 252.2,453.8 253.9,412.3 255.2,453.8 257.1,387.3 260.8,451.9 264.0,390.4 267.1,454.3 270.9,419.9 274.1,457.6 277.9,455.1 279.5,457.5 281.6,453.2 283.9,457.1 285.9,449.1 288.6,455.8 291.8,436.9 293.9,452.6 295.5,440.0 298.2,451.8 301.4,433.2 304.4,448.9 307.2,417.6 310.4,446.9 314.1,428.6 317.9,446.9 322.0,417.8 324.0,443.3 326.8,416.6 330.8,449.2 334.8,434.2 338.0,449.2 340.6,415.7 343.5,451.2 345.9,440.1 348.3,451.2 350.1,394.3 352.2,443.8 354.9,417.2 357.0,443.8 359.7,393.0 362.9,439.9 366.0,408.4 368.2,440.1 371.3,404.7 374.9,441.0 378.2,412.8 381.2,451.5 384.1,440.5 387.6,456.6 390.9,454.4 393.6,456.6 396.2,454.0 398.4,456.3 401.0,447.2 403.2,453.5 406.3,439.1 408.3,449.5 411.1,440.7 413.5,449.5 415.9,428.8 419.0,444.4 421.7,425.2 425.2,448.6 428.6,437.2 431.0,448.6 434.4,413.4 438.2,435.3 441.8,396.8 444.8,438.4 447.7,415.4 451.4,443.3 455.6,422.4 458.0,446.7 460.4,432.0 462.6,446.7 464.6,412.7 469.2,439.0 473.1,417.7 477.1,439.0 480.5,413.2 483.6,442.4 486.3,421.3 489.3,443.3 492.2,426.5 495.1,448.9 498.0,439.9 500.5,454.0 502.2,448.6 503.9,455.4 505.9,452.1 509.0,456.3 512.3,454.0 514.6,456.3 516.5,451.3 518.9,454.6 521.3,441.0 523.4,449.8 525.6,438.9 527.2,449.5 529.3,432.9 532.5,445.2 535.6,429.5 539.4,450.1 542.5,440.1 544.9,450.1 546.8,434.1 548.3,446.7 550.5,412.2 553.7,436.7 556.3,403.8 560.0,446.9 563.7,434.7 566.6,446.9 569.5,418.2 572.1,444.4 574.3,425.4 576.6,444.4 579.6,419.3 581.4,443.8 583.9,427.5 585.9,443.8 588.1,417.5 591.9,441.0 595.0,421.2 598.2,443.3 602.4,423.2 605.4,443.3 608.2,425.3 610.3,450.1 611.9,442.4 614.0,455.2 616.2,452.4 617.8,456.9 619.9,455.7 622.3,456.9 624.7,453.7 627.1,456.0 629.4,446.1 632.2,452.9 634.7,446.4 636.8,452.3 639.5,441.9 643.3,449.8 646.9,441.2 649.4,451.8 652.2,443.8 654.7,451.8 657.0,440.4 659.8,450.3 662.3,431.8 665.0,446.9 667.1,425.5 669.1,443.8 671.3,407.1 674.6,443.3 678.2,425.3 681.6,443.3 684.6,403.1 687.5,443.3 690.4,427.7 693.2,443.3 695.7,414.6 699.1,439.6 703.1,414.3 706.9,442.4 710.0,423.6 713.2,444.1 716.9,425.0 717.9,431.6 719.0,458.0" fill="none" stroke="#8f8be0" stroke-width="0.85" stroke-linejoin="round"/><polyline points="161.2,458.0 164.5,458.0 167.8,450.9 169.9,457.3 172.1,445.0 173.9,456.7 176.3,428.5 178.7,455.0 180.6,423.7 182.7,454.6 185.6,415.5 186.5,453.7 188.2,409.6 191.0,454.1 193.5,419.0 195.2,455.2 197.8,429.6 199.1,455.2 200.9,422.6 202.8,426.1 204.7,402.5 206.3,408.0 207.8,376.5 210.1,449.8 212.1,324.5 216.5,453.4 220.0,411.9 222.9,453.4 225.3,330.4 227.5,455.3 230.1,430.8 232.9,455.3 235.9,359.9 237.6,450.0 238.6,377.7 241.0,450.0 243.9,365.8 247.5,448.9 250.2,367.0 252.2,452.8 253.9,406.0 255.2,452.8 257.1,377.7 260.8,450.3 264.0,381.2 267.1,453.2 270.9,414.3 274.1,457.4 277.8,454.5 279.4,457.3 281.5,452.1 283.7,456.6 285.7,446.2 288.4,454.7 291.6,428.5 293.1,439.7 293.7,435.0 293.7,450.0 295.3,432.0 296.8,441.9 297.4,437.7 298.0,448.8 301.1,420.2 302.6,434.6 303.2,428.5 304.1,444.4 306.9,393.0 308.4,417.7 309.1,407.3 310.1,441.4 313.8,411.9 315.3,429.4 316.0,422.1 317.7,441.4 321.8,395.4 323.3,419.2 323.9,409.2 323.8,435.9 326.6,396.6 328.0,419.9 328.7,410.1 330.6,444.8 334.5,421.4 336.0,435.3 336.6,429.4 337.8,444.8 340.3,394.2 341.8,418.4 342.5,408.2 343.3,447.8 345.6,429.6 347.1,440.4 347.8,435.9 348.1,447.8 349.9,367.0 351.4,401.6 352.0,387.0 352.0,436.7 354.6,398.9 356.1,421.4 356.8,411.9 356.8,436.7 359.4,367.0 360.9,401.6 361.5,387.0 362.7,430.8 365.8,382.4 367.3,411.1 367.9,399.0 368.0,431.2 371.1,383.6 372.6,411.9 373.2,399.9 374.7,432.5 378.0,387.1 379.4,414.1 380.1,402.7 381.0,448.2 383.8,430.8 385.3,441.2 385.9,436.8 387.4,455.9 390.7,452.1 393.4,455.9 396.0,450.9 398.2,455.4 400.7,439.1 403.0,451.2 406.0,420.2 407.5,434.6 408.2,428.5 408.1,445.2 410.8,422.6 412.3,436.0 412.9,430.4 413.3,445.2 415.6,397.7 417.1,420.6 417.7,411.0 418.8,437.6 421.4,401.3 422.9,422.8 423.5,413.8 425.0,444.0 428.3,419.0 429.8,433.8 430.4,427.6 430.8,444.0 434.1,363.5 435.6,399.4 436.3,384.3 438.0,424.0 441.6,351.7 443.0,392.1 443.7,375.1 444.6,428.7 447.4,376.5 448.9,407.5 449.5,394.4 451.2,435.9 455.3,396.6 456.8,419.9 457.5,410.1 457.8,441.0 460.1,410.7 461.6,428.7 462.2,421.1 462.4,441.0 464.3,375.3 465.8,406.7 466.5,393.5 468.9,429.5 472.8,378.8 474.3,408.9 474.9,396.3 476.9,429.5 480.2,378.8 481.7,408.9 482.4,396.3 483.4,434.6 486.1,393.0 487.6,417.7 488.2,407.3 489.1,435.9 491.9,396.6 493.4,419.9 494.0,410.1 494.9,444.4 497.7,420.2 499.2,434.6 499.9,428.5 500.3,452.0 502.0,441.5 503.7,454.2 505.7,447.4 508.8,455.4 512.0,450.9 514.4,455.4 516.3,443.8 518.7,452.9 521.1,423.7 522.5,436.8 523.2,431.3 523.2,445.7 525.3,422.6 526.8,436.0 527.4,430.4 526.9,445.2 529.0,404.8 530.5,425.0 531.1,416.5 532.3,438.9 535.4,400.1 536.8,422.1 537.5,412.8 539.2,446.1 542.3,424.9 543.7,437.5 544.4,432.2 544.7,446.1 546.5,410.7 548.0,428.7 548.6,421.1 548.1,441.0 550.2,369.4 551.7,403.1 552.3,388.9 553.5,426.1 556.0,362.3 557.5,398.7 558.2,383.4 559.8,441.4 563.5,411.9 564.9,429.4 565.6,422.1 566.4,441.4 569.3,387.1 570.8,414.1 571.4,402.7 571.8,437.6 574.1,401.3 575.5,422.8 576.2,413.8 576.4,437.6 579.4,383.6 580.8,411.9 581.5,399.9 581.2,436.7 583.6,398.9 585.1,421.4 585.7,411.9 585.7,436.7 587.8,377.7 589.3,408.2 590.0,395.3 591.7,432.5 594.7,387.1 596.2,414.1 596.8,402.7 598.0,435.9 602.1,396.6 603.6,419.9 604.3,410.1 605.2,435.9 608.0,396.6 609.5,419.9 610.1,410.1 610.1,446.1 611.7,424.9 613.2,437.5 613.8,432.2 613.8,453.7 615.9,446.2 617.6,456.3 619.6,453.3 622.1,456.3 624.4,449.7 626.9,455.0 629.2,436.7 632.0,450.3 634.5,434.4 636.6,449.5 639.2,423.7 640.7,436.8 641.4,431.3 643.1,445.7 646.7,423.7 648.1,436.8 648.8,431.3 649.2,448.6 652.0,432.0 653.4,441.9 654.1,437.7 654.4,448.6 656.7,426.1 658.2,438.2 658.8,433.1 659.6,446.5 662.0,411.9 663.5,429.4 664.1,422.1 664.8,441.4 666.8,398.9 668.3,421.4 668.9,411.9 668.9,436.7 671.0,363.5 672.5,399.4 673.2,384.3 674.4,435.9 677.9,396.6 679.4,419.9 680.0,410.1 681.4,435.9 684.3,362.3 685.8,398.7 686.4,383.4 687.3,435.9 690.1,396.6 691.6,419.9 692.2,410.1 693.0,435.9 695.4,377.7 696.9,408.2 697.5,395.3 698.9,430.4 702.8,381.2 704.3,410.4 705.0,398.1 706.7,434.6 709.7,393.0 711.2,417.7 711.8,407.3 713.0,437.2 716.6,400.1 718.1,422.1 718.7,412.8 717.9,421.9 719.0,458.0" fill="none" stroke="#82ca9d" stroke-width="0.7" stroke-linejoin="round" stroke-dasharray="3 2.4"/><polyline points="161.2,458.0 164.5,458.0 167.8,453.0 169.9,457.7 172.1,448.9 173.9,457.5 176.3,437.3 178.7,456.8 180.6,434.0 182.7,456.6 185.6,428.2 186.5,456.3 188.2,424.1 191.0,456.4 193.5,430.7 195.2,456.9 197.8,438.2 199.1,456.9 200.9,433.2 202.8,454.5 204.7,419.1 206.3,452.4 207.8,400.9 210.1,454.7 212.1,364.6 216.5,456.2 220.0,425.7 222.9,456.2 225.3,368.7 227.5,456.9 230.1,439.0 232.9,456.9 235.9,389.4 237.6,454.8 238.6,401.8 241.0,454.8 243.9,393.5 247.5,454.4 250.2,394.3 252.2,455.9 253.9,421.6 255.2,455.9 257.1,401.8 260.8,454.9 264.0,404.2 267.1,456.3 270.9,428.0 274.0,457.9 277.7,455.9 279.3,457.9 281.4,455.0 283.6,457.8 285.6,452.5 288.3,457.7 291.4,445.1 293.5,457.4 295.1,448.1 297.7,457.5 300.9,446.5 303.9,457.2 306.7,437.3 309.9,457.1 313.6,444.8 317.5,457.1 321.6,446.7 323.6,456.8 326.3,445.3 330.4,457.3 334.3,449.3 337.6,457.3 340.1,441.7 343.1,457.4 345.4,452.5 347.9,457.4 349.7,439.1 351.8,456.8 354.4,439.6 356.6,456.8 359.2,430.5 362.5,456.5 365.6,444.0 367.8,456.5 370.9,442.7 374.5,456.6 377.7,437.2 380.7,457.5 383.6,452.7 387.2,457.9 390.5,456.8 393.2,457.9 395.8,457.0 398.0,457.9 400.5,456.5 402.8,457.6 405.8,453.6 407.8,457.3 410.6,454.3 413.1,457.3 415.4,451.7 418.6,456.9 421.2,449.6 424.8,457.2 428.1,455.2 430.6,457.2 433.9,440.4 437.8,456.1 441.3,452.3 444.4,456.4 447.2,445.0 451.0,456.8 455.1,454.2 457.5,457.1 459.9,449.3 462.2,457.1 464.1,444.0 468.7,456.4 472.6,445.9 476.7,456.4 480.0,449.1 483.2,456.7 485.9,449.2 488.9,456.8 491.7,449.6 494.7,457.2 497.5,452.5 500.1,457.7 501.8,455.4 503.5,457.8 505.5,456.5 508.6,457.9 511.8,457.6 514.2,457.9 516.1,456.0 518.4,457.7 520.8,452.7 523.0,457.3 525.1,451.3 526.7,457.3 528.8,452.9 532.1,456.9 535.2,453.6 538.9,457.3 542.0,454.2 544.5,457.3 546.3,450.9 547.9,457.1 550.0,442.9 553.3,456.2 555.8,447.7 559.6,457.1 563.2,454.8 566.2,457.1 569.1,445.4 571.6,456.9 573.8,452.8 576.2,456.9 579.1,451.2 581.0,456.8 583.4,449.5 585.5,456.8 587.6,443.9 591.5,456.6 594.5,453.7 597.8,456.8 601.9,454.5 605.0,456.8 607.8,452.1 609.9,457.3 611.5,455.7 613.5,457.8 615.7,455.9 617.3,457.9 619.4,457.7 621.9,457.9 624.2,456.8 626.7,457.8 629.0,453.9 631.8,457.6 634.3,455.1 636.4,457.5 639.0,453.9 642.9,457.3 646.4,454.9 649.0,457.5 651.7,454.7 654.2,457.5 656.5,454.5 659.4,457.4 661.8,455.1 664.6,457.1 666.6,453.9 668.7,456.8 670.8,440.4 674.2,456.8 677.7,446.8 681.1,456.8 684.1,446.6 687.1,456.8 689.9,448.3 692.8,456.8 695.2,445.3 698.7,456.5 702.6,442.9 706.5,456.7 709.5,447.0 712.8,456.8 716.4,447.7 717.9,449.7 719.0,458.0" fill="none" stroke="#e3b85a" stroke-width="0.7" stroke-linejoin="round" stroke-dasharray="3 2.4"/></svg>
<span style="left:153.15px;top:454.00px;font-size:8px;line-height:10px;color:#f1f4f8;">0</span>
<span style="left:145.35px;top:418.56px;font-size:8px;line-height:10px;color:#f1f4f8;letter-spacing:-0.215px;">30k</span>
<span style="left:145.35px;top:383.12px;font-size:8px;line-height:10px;color:#f1f4f8;letter-spacing:-0.215px;">60k</span>
<span style="left:141.68px;top:320.50px;font-size:8px;line-height:10px;color:#f1f4f8;letter-spacing:-0.209px;">113k</span>
<span style="left:157.19px;top:461.20px;font-size:8px;line-height:10px;color:#f1f4f8;letter-spacing:-0.211px;">0s</span>
<span style="left:188.99px;top:461.20px;font-size:8px;line-height:10px;color:#f1f4f8;letter-spacing:-0.211px;">6s</span>
<span style="left:218.67px;top:461.20px;font-size:8px;line-height:10px;color:#f1f4f8;letter-spacing:-0.215px;">12s</span>
<span style="left:250.47px;top:461.20px;font-size:8px;line-height:10px;color:#f1f4f8;letter-spacing:-0.215px;">18s</span>
<span style="left:282.27px;top:461.20px;font-size:8px;line-height:10px;color:#f1f4f8;letter-spacing:-0.215px;">24s</span>
<span style="left:314.07px;top:461.20px;font-size:8px;line-height:10px;color:#f1f4f8;letter-spacing:-0.215px;">30s</span>
<span style="left:345.86px;top:461.20px;font-size:8px;line-height:10px;color:#f1f4f8;letter-spacing:-0.215px;">36s</span>
<span style="left:377.66px;top:461.20px;font-size:8px;line-height:10px;color:#f1f4f8;letter-spacing:-0.215px;">42s</span>
<span style="left:409.46px;top:461.20px;font-size:8px;line-height:10px;color:#f1f4f8;letter-spacing:-0.215px;">48s</span>
<span style="left:441.26px;top:461.20px;font-size:8px;line-height:10px;color:#f1f4f8;letter-spacing:-0.215px;">54s</span>
<span style="left:473.06px;top:461.20px;font-size:8px;line-height:10px;color:#f1f4f8;letter-spacing:-0.215px;">60s</span>
<span style="left:504.86px;top:461.20px;font-size:8px;line-height:10px;color:#f1f4f8;letter-spacing:-0.215px;">66s</span>
<span style="left:536.66px;top:461.20px;font-size:8px;line-height:10px;color:#f1f4f8;letter-spacing:-0.215px;">72s</span>
<span style="left:568.45px;top:461.20px;font-size:8px;line-height:10px;color:#f1f4f8;letter-spacing:-0.215px;">78s</span>
<span style="left:600.25px;top:461.20px;font-size:8px;line-height:10px;color:#f1f4f8;letter-spacing:-0.215px;">84s</span>
<span style="left:632.05px;top:461.20px;font-size:8px;line-height:10px;color:#f1f4f8;letter-spacing:-0.215px;">90s</span>
<span style="left:663.85px;top:461.20px;font-size:8px;line-height:10px;color:#f1f4f8;letter-spacing:-0.215px;">96s</span>
<span style="left:694.75px;top:461.20px;font-size:8px;line-height:10px;color:#f1f4f8;letter-spacing:-0.281px;">105.25s</span>
<svg style="left:369px;top:477.6px;" width="9" height="6" viewBox="0 0 9 6"><line x1="0" y1="3" x2="8.6" y2="3" stroke="#8884d8" stroke-width="0.9"/><circle cx="4.3" cy="3" r="1.45" fill="#b9b6ea" stroke="#8884d8" stroke-width="0.5"/></svg>
<span style="left:379.20px;top:476.30px;font-size:8px;line-height:10px;color:#8884d8;letter-spacing:-0.128px;">mean</span>
<svg style="left:405px;top:477.6px;" width="9" height="6" viewBox="0 0 9 6"><line x1="0" y1="3" x2="8.6" y2="3" stroke="#82ca9d" stroke-width="0.9"/><circle cx="4.3" cy="3" r="1.45" fill="#c4ead2" stroke="#82ca9d" stroke-width="0.5"/></svg>
<span style="left:415.20px;top:476.30px;font-size:8px;line-height:10px;color:#82ca9d;letter-spacing:0.108px;">upper</span>
<svg style="left:441px;top:477.6px;" width="9" height="6" viewBox="0 0 9 6"><line x1="0" y1="3" x2="8.6" y2="3" stroke="#e6b04a" stroke-width="0.9"/><circle cx="4.3" cy="3" r="1.45" fill="#f6dfa6" stroke="#e6b04a" stroke-width="0.5"/></svg>
<span style="left:451.20px;top:476.30px;font-size:8px;line-height:10px;color:#e6b04a;letter-spacing:0.296px;">lower</span>
<span style="left:321.50px;top:489.40px;font-size:8px;line-height:10px;color:#f1f4f8;letter-spacing:-0.009px;">Simulated 105.35s of combat (1000 iterations took 41.849s to run).</span>
<span style="left:348.00px;top:499.00px;font-size:8px;line-height:10px;color:#f1f4f8;letter-spacing:-0.297px;">git hash: </span>
<span style="left:378.60px;top:499.00px;font-size:8px;line-height:10px;color:#7aa7f0;letter-spacing:0.051px;">77769bd8</span>
<span style="left:414.80px;top:499.00px;font-size:8px;line-height:10px;color:#f1f4f8;letter-spacing:-0.016px;">, built on: 2022-08-22T17:19:18Z</span>
<span style="left:184.30px;top:515.20px;font-size:8px;line-height:10px;color:#f1f4f8;font-weight:700;-webkit-text-stroke:0;letter-spacing:0.024px;">Target</span>
<span style="left:336.20px;top:515.20px;font-size:8px;line-height:10px;color:#f1f4f8;font-weight:700;-webkit-text-stroke:0;letter-spacing:-0.252px;">Level</span>
<span style="left:438.90px;top:515.20px;font-size:8px;line-height:10px;color:#f1f4f8;font-weight:700;-webkit-text-stroke:0;letter-spacing:-0.141px;">Avg DPS</span>
<span style="left:580.29px;top:515.20px;font-size:8px;line-height:10px;color:#f1f4f8;font-weight:700;-webkit-text-stroke:0;">%</span>
<span style="left:669.50px;top:515.20px;font-size:8px;line-height:10px;color:#f1f4f8;font-weight:700;-webkit-text-stroke:0;letter-spacing:-0.015px;">Std. Dev.</span>
<div style="left:184px;top:524.4px;width:519px;height:1.25px;background:rgba(255,255,255,.8);"></div>
<span style="left:189.00px;top:529.00px;font-size:8px;line-height:10px;color:#dfe4ea;letter-spacing:-0.070px;">Target 1:</span>
<span style="left:352.64px;top:529.00px;font-size:8px;line-height:10px;color:#dfe4ea;">-</span>
<span style="left:447.80px;top:529.00px;font-size:8px;line-height:10px;color:#dfe4ea;letter-spacing:-0.212px;">64,455</span>
<span style="left:567.80px;top:529.00px;font-size:8px;line-height:10px;color:#dfe4ea;letter-spacing:-0.215px;">100%</span>
<span style="left:683.80px;top:529.00px;font-size:8px;line-height:10px;color:#dfe4ea;letter-spacing:-0.164px;">5,149</span>
<div style="left:184px;top:539.9px;width:519px;height:1.25px;background:rgba(255,255,255,.8);"></div>
<span style="left:184.30px;top:542.80px;font-size:8px;line-height:10px;color:#f1f4f8;font-weight:700;-webkit-text-stroke:0;letter-spacing:-0.076px;">Combined</span>
<span style="left:446.00px;top:542.80px;font-size:8px;line-height:10px;color:#f1f4f8;font-weight:700;-webkit-text-stroke:0;letter-spacing:0.088px;">64,445</span>
<span style="left:682.50px;top:542.80px;font-size:8px;line-height:10px;color:#f1f4f8;font-weight:700;-webkit-text-stroke:0;letter-spacing:0.096px;">5,148</span>
<div style="left:119.6px;top:560.8px;width:317px;height:194.2px;background:#4b5563;border-radius:4px;"></div>
<span style="left:124.50px;top:564.60px;font-size:8px;line-height:10px;color:#f1f4f8;font-weight:700;-webkit-text-stroke:0;letter-spacing:-0.103px;">Average DPS By Character</span>
<svg style="left:0px;top:0px;" width="879" height="760" viewBox="0 0 879 760"><path d="M245.60 667.20 L320.80 667.20 A75.2 75.2 0 0 0 280.32 600.50Z" fill="#4472c4" stroke="#ffffff" stroke-width="0.7" stroke-linejoin="round"/><path d="M245.60 667.20 L280.32 600.50 A75.2 75.2 0 0 0 171.13 677.67Z" fill="#ed7d31" stroke="#ffffff" stroke-width="0.7" stroke-linejoin="round"/><path d="M245.60 667.20 L171.13 677.67 A75.2 75.2 0 0 0 177.01 698.03Z" fill="#a5a5a5" stroke="#ffffff" stroke-width="0.7" stroke-linejoin="round"/><path d="M245.60 667.20 L177.01 698.03 A75.2 75.2 0 0 0 320.80 667.20Z" fill="#70ad47" stroke="#ffffff" stroke-width="0.7" stroke-linejoin="round"/></svg>
<span style="left:278.19px;top:644.70px;font-size:8px;line-height:10px;color:#ffffff;letter-spacing:-0.267px;">17%</span>
<span style="left:208.79px;top:632.70px;font-size:8px;line-height:10px;color:#ffffff;letter-spacing:-0.267px;">35%</span>
<span style="left:198.51px;top:673.90px;font-size:8px;line-height:10px;color:#ffffff;letter-spacing:-0.289px;">4%</span>
<span style="left:253.79px;top:700.70px;font-size:8px;line-height:10px;color:#ffffff;letter-spacing:-0.267px;">43%</span>
<div style="left:368.6px;top:659.6px;width:7.4px;height:7.2px;background:#4472c4;"></div>
<span style="left:378.60px;top:658.80px;font-size:8px;line-height:10px;color:#f1f4f8;letter-spacing:-0.007px;">raiden</span>
<div style="left:368.6px;top:670.0px;width:7.4px;height:7.2px;background:#ed7d31;"></div>
<span style="left:378.60px;top:669.20px;font-size:8px;line-height:10px;color:#f1f4f8;letter-spacing:0.207px;">xingqiu</span>
<div style="left:368.6px;top:680.4px;width:7.4px;height:7.2px;background:#a5a5a5;"></div>
<span style="left:378.60px;top:679.60px;font-size:8px;line-height:10px;color:#f1f4f8;letter-spacing:0.130px;">bennett</span>
<div style="left:368.6px;top:690.8000000000001px;width:7.4px;height:7.2px;background:#70ad47;"></div>
<span style="left:378.60px;top:690.00px;font-size:8px;line-height:10px;color:#f1f4f8;letter-spacing:0.069px;">xiangling</span>
<div style="left:441.6px;top:560.8px;width:317px;height:194.2px;background:#4b5563;border-radius:4px;"></div>
<span style="left:446.50px;top:564.60px;font-size:8px;line-height:10px;color:#f1f4f8;font-weight:700;-webkit-text-stroke:0;letter-spacing:-0.035px;">Average Character Field Time</span>
<svg style="left:0px;top:0px;" width="879" height="760" viewBox="0 0 879 760"><path d="M567.60 667.20 L642.80 667.20 A75.2 75.2 0 0 0 505.18 625.26Z" fill="#4472c4" stroke="#ffffff" stroke-width="0.7" stroke-linejoin="round"/><path d="M567.60 667.20 L505.18 625.26 A75.2 75.2 0 0 0 517.48 723.26Z" fill="#ed7d31" stroke="#ffffff" stroke-width="0.7" stroke-linejoin="round"/><path d="M567.60 667.20 L517.48 723.26 A75.2 75.2 0 0 0 618.11 722.91Z" fill="#a5a5a5" stroke="#ffffff" stroke-width="0.7" stroke-linejoin="round"/><path d="M567.60 667.20 L618.11 722.91 A75.2 75.2 0 0 0 642.80 667.20Z" fill="#70ad47" stroke="#ffffff" stroke-width="0.7" stroke-linejoin="round"/></svg>
<span style="left:578.79px;top:628.20px;font-size:8px;line-height:10px;color:#ffffff;letter-spacing:-0.267px;">41%</span>
<span style="left:515.39px;top:668.80px;font-size:8px;line-height:10px;color:#ffffff;letter-spacing:-0.267px;">23%</span>
<span style="left:567.89px;top:701.40px;font-size:8px;line-height:10px;color:#ffffff;letter-spacing:-0.267px;">23%</span>
<span style="left:602.39px;top:678.90px;font-size:8px;line-height:10px;color:#ffffff;letter-spacing:-0.267px;">13%</span>
<div style="left:690.6px;top:659.6px;width:7.4px;height:7.2px;background:#4472c4;"></div>
<span style="left:700.60px;top:658.80px;font-size:8px;line-height:10px;color:#f1f4f8;letter-spacing:-0.007px;">raiden</span>
<div style="left:690.6px;top:670.0px;width:7.4px;height:7.2px;background:#ed7d31;"></div>
<span style="left:700.60px;top:669.20px;font-size:8px;line-height:10px;color:#f1f4f8;letter-spacing:0.207px;">xingqiu</span>
<div style="left:690.6px;top:680.4px;width:7.4px;height:7.2px;background:#a5a5a5;"></div>
<span style="left:700.60px;top:679.60px;font-size:8px;line-height:10px;color:#f1f4f8;letter-spacing:0.130px;">bennett</span>
<div style="left:690.6px;top:690.8000000000001px;width:7.4px;height:7.2px;background:#70ad47;"></div>
<span style="left:700.60px;top:690.00px;font-size:8px;line-height:10px;color:#f1f4f8;letter-spacing:0.069px;">xiangling</span>
<div style="left:119.6px;top:759.8px;width:317px;height:194.2px;background:#4b5563;border-radius:4px;"></div>
<span style="left:124.50px;top:763.80px;font-size:8px;line-height:10px;color:#f1f4f8;font-weight:700;-webkit-text-stroke:0;letter-spacing:-0.074px;">Reactions Triggered</span>
<span style="left:152.95px;top:925.30px;font-size:8px;line-height:10px;color:#f1f4f8;">0</span>
<span style="left:148.95px;top:889.80px;font-size:8px;line-height:10px;color:#f1f4f8;letter-spacing:-0.222px;">30</span>
<span style="left:148.95px;top:853.60px;font-size:8px;line-height:10px;color:#f1f4f8;letter-spacing:-0.222px;">60</span>
<span style="left:148.95px;top:818.00px;font-size:8px;line-height:10px;color:#f1f4f8;letter-spacing:-0.222px;">90</span>
<span style="left:144.72px;top:783.80px;font-size:8px;line-height:10px;color:#f1f4f8;letter-spacing:-0.222px;">120</span>
<div style="left:163.2px;top:788px;width:0.7px;height:142px;background:#5b6271;"></div>
<div style="left:163.2px;top:929.4px;width:247px;height:0.7px;background:#5b6271;"></div>
<div style="left:169.4px;top:797.4px;width:68.29999999999998px;height:132.20000000000005px;background:#2965cc;"></div>
<div style="left:253.9px;top:868.0px;width:67.1px;height:61.60000000000002px;background:#29a634;"></div>
<div style="left:337.6px;top:806.0px;width:67.59999999999997px;height:123.60000000000002px;background:#d99e0b;"></div>
<span style="left:176.85px;top:934.00px;font-size:8px;line-height:10px;color:#f1f4f8;letter-spacing:0.041px;">electrocharged</span>
<span style="left:271.80px;top:934.00px;font-size:8px;line-height:10px;color:#f1f4f8;letter-spacing:0.039px;">overload</span>
<span style="left:356.40px;top:934.00px;font-size:8px;line-height:10px;color:#f1f4f8;letter-spacing:-0.030px;">vaporize</span>
<div style="left:441.6px;top:759.8px;width:317px;height:194.2px;background:#4b5563;border-radius:4px;"></div>
<span style="left:446.50px;top:763.80px;font-size:8px;line-height:10px;color:#f1f4f8;font-weight:700;-webkit-text-stroke:0;letter-spacing:-0.079px;">Particles Count</span>
<span style="left:474.95px;top:925.30px;font-size:8px;line-height:10px;color:#f1f4f8;">0</span>
<span style="left:470.95px;top:889.80px;font-size:8px;line-height:10px;color:#f1f4f8;letter-spacing:-0.222px;">15</span>
<span style="left:470.95px;top:853.60px;font-size:8px;line-height:10px;color:#f1f4f8;letter-spacing:-0.222px;">30</span>
<span style="left:470.95px;top:818.00px;font-size:8px;line-height:10px;color:#f1f4f8;letter-spacing:-0.222px;">45</span>
<span style="left:470.95px;top:783.80px;font-size:8px;line-height:10px;color:#f1f4f8;letter-spacing:-0.222px;">60</span>
<div style="left:485.2px;top:788px;width:0.7px;height:142px;background:#5b6271;"></div>
<div style="left:485.2px;top:929.4px;width:247px;height:0.7px;background:#5b6271;"></div>
<div style="left:488.0px;top:854.8px;width:33.799999999999955px;height:74.80000000000007px;background:#2965cc;"></div>
<div style="left:571.8px;top:862.7px;width:33.700000000000045px;height:66.89999999999998px;background:#d99e0b;"></div>
<div style="left:613.8px;top:823.0px;width:33.80000000000007px;height:106.60000000000002px;background:#d13913;"></div>
<div style="left:655.8px;top:882.6px;width:33.5px;height:47.0px;background:#8f398f;"></div>
<div style="left:697.9px;top:870.6px;width:33.80000000000007px;height:59.0px;background:#00b3a4;"></div>
<span style="left:491.20px;top:934.00px;font-size:8px;line-height:10px;color:#f1f4f8;letter-spacing:0.130px;">bennett</span>
<span style="left:538.55px;top:934.00px;font-size:8px;line-height:10px;color:#f1f4f8;letter-spacing:0.122px;">drop</span>
<span style="left:561.50px;top:934.00px;font-size:8px;line-height:10px;color:#f1f4f8;letter-spacing:0.020px;">favonius-raiden</span>
<span style="left:619.60px;top:934.00px;font-size:8px;line-height:10px;color:#f1f4f8;letter-spacing:-0.007px;">raiden</span>
<span style="left:656.30px;top:934.00px;font-size:8px;line-height:10px;color:#f1f4f8;letter-spacing:0.069px;">xiangling</span>
<span style="left:701.00px;top:934.00px;font-size:8px;line-height:10px;color:#f1f4f8;letter-spacing:0.207px;">xingqiu</span>
<div style="left:0px;top:978px;width:879px;height:46px;background:#2b3540;"></div>
<span style="left:10.50px;top:1004.30px;font-size:6.9px;line-height:9px;color:#e6e9ee;letter-spacing:0.016px;">gcsim is not affiliated with miHoYo. Genshin Impact, game content and materials are trademarks and copyrights of miHoYo.</span>
<svg style="left:794.2px;top:991.6px;" width="19.6" height="19.6" viewBox="0 0 21 21"><circle cx="10.5" cy="10.3" r="9.8" fill="#3aa6dc"/><path d="M4.4 6.8 H14.6 V12.4 Q14.6 14.4 12.6 14.4 H6.4 Q4.4 14.4 4.4 12.4Z" fill="#ffffff"/><path d="M14.4 7.4 H15.8 Q17.8 7.4 17.8 9.4 Q17.8 11.4 15.8 11.4 H14.4 V10 H15.6 Q16.4 10 16.4 9.4 Q16.4 8.8 15.6 8.8 H14.4Z" fill="#ffffff"/><path d="M9.4 13 Q6.2 10.8 6.4 9.2 Q6.6 7.8 8 8 Q8.9 8.1 9.4 9 Q9.9 8.1 10.8 8 Q12.2 7.8 12.4 9.2 Q12.6 10.8 9.4 13Z" fill="#ee4e4e"/></svg>
<svg style="left:821.6px;top:991.3px;" width="19.8" height="19.8" viewBox="0 0 21 21"><path d="M10.4 1 A9.6 9.6 0 0 0 7.4 19.7 C7.9 19.8 8 19.5 8 19.2 V17.5 C5.4 18.1 4.8 16.3 4.8 16.3 C4.4 15.2 3.8 14.9 3.8 14.9 C2.9 14.3 3.9 14.3 3.9 14.3 C4.8 14.4 5.3 15.3 5.3 15.3 C6.2 16.8 7.6 16.4 8.1 16.1 C8.2 15.5 8.4 15.1 8.7 14.8 C6.6 14.6 4.3 13.7 4.3 10 C4.3 9 4.7 8.1 5.3 7.5 C5.2 7.2 4.9 6.2 5.4 4.9 C5.4 4.9 6.2 4.6 8 5.9 A9 9 0 0 1 12.8 5.9 C14.6 4.6 15.4 4.9 15.4 4.9 C15.9 6.2 15.6 7.2 15.5 7.5 C16.1 8.1 16.5 9 16.5 10 C16.5 13.7 14.2 14.6 12.1 14.8 C12.5 15.1 12.8 15.7 12.8 16.6 V19.2 C12.8 19.5 12.9 19.8 13.4 19.7 A9.6 9.6 0 0 0 10.4 1Z" fill="#15181c"/></svg>
<svg style="left:849.5px;top:992px;" width="25" height="19" viewBox="0 0 25 19"><path d="M20.9 1.7 A20 20 0 0 0 16 0.2 L15.4 1.5 A18.5 18.5 0 0 0 9.6 1.5 L9 0.2 A20 20 0 0 0 4.1 1.7 C1 6.3 0.2 10.8 0.6 15.2 A20 20 0 0 0 6.6 18.3 L7.9 16.2 A13 13 0 0 1 5.9 15.2 L6.4 14.8 C10.3 16.6 14.6 16.6 18.5 14.8 L19 15.2 A13 13 0 0 1 17 16.2 L18.3 18.3 A20 20 0 0 0 24.4 15.2 C24.9 10.1 23.5 5.7 20.9 1.7Z" fill="#5865f2"/><ellipse cx="8.6" cy="10.4" rx="2.1" ry="2.4" fill="#2b3540"/><ellipse cx="16.4" cy="10.4" rx="2.1" ry="2.4" fill="#2b3540"/></svg>
</div></body></html>
